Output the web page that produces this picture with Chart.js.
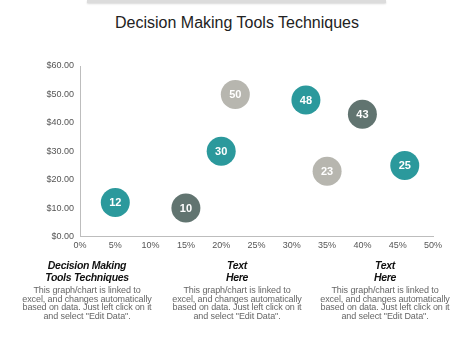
<!DOCTYPE html>
<html>
<head>
<meta charset="utf-8">
<script src="https://cdn.jsdelivr.net/npm/chart.js@4.4.1/dist/chart.umd.min.js"></script>
<style>
  html, body { margin: 0; padding: 0; background: #fff; }
  body { width: 474px; height: 355px; position: relative; overflow: hidden; font-family: "Liberation Sans", Arial, sans-serif; }
  #topbar { position: absolute; left: 87px; top: 0; width: 299px; height: 3px; background: #dcdcdc; box-shadow: 0 1px 2px rgba(0,0,0,0.15); }
  #title { position: absolute; left: 0; width: 474px; top: 14px; text-align: center; font-size: 16px; color: #222; }
  #wrap { position: absolute; left: 0; top: 0; width: 474px; height: 355px; }
  .col { position: absolute; top: 260px; width: 140px; text-align: center; }
  .col h4 { margin: 0; font-size: 10.5px; line-height: 11.5px; font-weight: bold; font-style: italic; color: #111; letter-spacing: -0.3px; }
  .col p { margin: 3px 0 0 0; font-size: 9px; line-height: 8.6px; color: #666; letter-spacing: -0.1px; }
</style>
</head>
<body>
<div id="topbar"></div>
<div id="title">Decision Making Tools Techniques</div>
<div id="wrap"><canvas id="c" width="474" height="355"></canvas></div>
<div class="col" style="left:17px"><h4>Decision Making<br>Tools Techniques</h4><p>This graph/chart is linked to<br>excel, and changes automatically<br>based on data. Just left click on it<br>and select "Edit Data".</p></div>
<div class="col" style="left:167px"><h4>Text<br>Here</h4><p>This graph/chart is linked to<br>excel, and changes automatically<br>based on data. Just left click on it<br>and select "Edit Data".</p></div>
<div class="col" style="left:315px"><h4>Text<br>Here</h4><p>This graph/chart is linked to<br>excel, and changes automatically<br>based on data. Just left click on it<br>and select "Edit Data".</p></div>
<script>
// Data
const xPercent = [5, 15, 20, 22, 32, 35, 40, 46];
const yDollars = [12, 10, 30, 50, 48, 23, 43, 25];
const bubbleLabels = ["12", "10", "30", "50", "48", "23", "43", "25"];
const colorGroup = ["teal", "dark", "teal", "light", "teal", "light", "dark", "teal"];
const palette = { teal: "#2b999c", dark: "#617470", light: "#b7b6af" };

const points = xPercent.map((x, i) => ({ x: x, y: yDollars[i], r: 14.5 }));

const labelPlugin = {
  id: "bubbleText",
  afterDatasetsDraw(chart) {
    const ctx = chart.ctx;
    const meta = chart.getDatasetMeta(0);
    ctx.save();
    ctx.fillStyle = "#ffffff";
    ctx.font = "bold 11px 'Liberation Sans', Arial, sans-serif";
    ctx.textAlign = "center";
    ctx.textBaseline = "middle";
    meta.data.forEach((el, i) => {
      ctx.fillText(bubbleLabels[i], el.x, el.y + 0.5);
    });
    ctx.restore();
  }
};

new Chart(document.getElementById("c"), {
  type: "bubble",
  data: {
    datasets: [{
      data: points,
      backgroundColor: colorGroup.map(g => palette[g]),
      borderWidth: 0,
      hoverRadius: 0
    }]
  },
  options: {
    responsive: false,
    animation: false,
    events: [],
    layout: { padding: { top: 66, left: 0, right: 41, bottom: 98.5 } },
    plugins: { legend: { display: false }, tooltip: { enabled: false }, title: { display: false } },
    scales: {
      x: {
        type: "linear", min: 0, max: 50,
        grid: { display: false, drawTicks: false },
        border: { display: true, color: "#bdbdbd", width: 1 },
        ticks: { stepSize: 5, padding: 4, color: "#555", font: { size: 9, family: "'Liberation Sans', Arial" }, callback: v => v + "%" },
        afterFit(s) { s.height = 20; }
      },
      y: {
        type: "linear", min: 0, max: 60,
        grid: { display: false, drawTicks: false },
        border: { display: true, color: "#bdbdbd", width: 1 },
        ticks: { stepSize: 10, padding: 6, color: "#555", font: { size: 9, family: "'Liberation Sans', Arial" }, callback: v => "$" + v.toFixed(2) },
        afterFit(s) { s.width = 80; }
      }
    }
  },
  plugins: [labelPlugin]
});
</script>
</body>
</html>
